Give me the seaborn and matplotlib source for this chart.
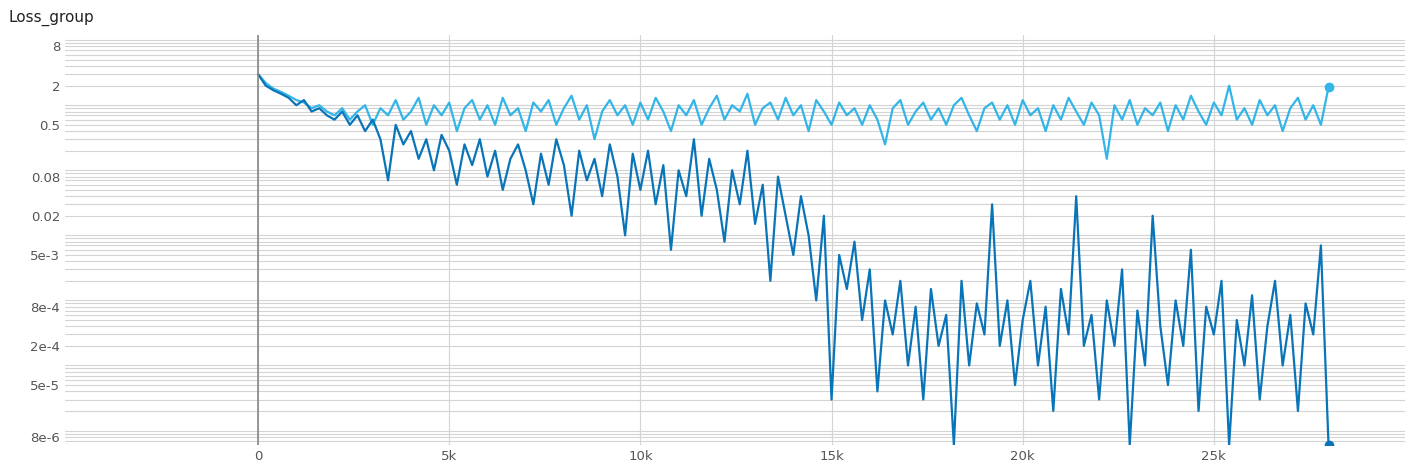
import numpy as np
import pandas as pd
import matplotlib
matplotlib.use("Agg")
import matplotlib.pyplot as plt
import seaborn as sns

steps = list(range(0, 28001, 200))
light = [3.0,2.2,1.8,1.6,1.4,1.2,1.1,0.9,1.0,0.8,
 0.7,0.9,0.6,0.8,1.0,0.5,0.9,0.7,1.2,0.6,
 0.8,1.3,0.5,1.0,0.7,1.1,0.4,0.9,1.2,0.6,
 1.0,0.5,1.3,0.7,0.9,0.4,1.1,0.8,1.2,0.5,
 0.9,1.4,0.6,1.0,0.3,0.8,1.2,0.7,1.0,0.5,
 1.1,0.6,1.3,0.8,0.4,1.0,0.7,1.2,0.5,0.9,
 1.4,0.6,1.0,0.8,1.5,0.5,0.9,1.1,0.6,1.3,
 0.7,1.0,0.4,1.2,0.8,0.5,1.1,0.7,0.9,0.5,
 1.0,0.6,0.25,0.9,1.2,0.5,0.8,1.1,0.6,0.9,
 0.5,1.0,1.3,0.7,0.4,0.9,1.1,0.6,1.0,0.5,
 1.2,0.7,0.9,0.4,1.0,0.6,1.3,0.8,0.5,1.1,
 0.7,0.15,1.0,0.6,1.2,0.5,0.9,0.7,1.1,0.4,
 1.0,0.6,1.4,0.8,0.5,1.1,0.7,2.0,0.6,0.9,
 0.5,1.2,0.7,1.0,0.4,0.9,1.3,0.6,1.0,0.5,
 1.9]
dark = [3.0,2.0,1.7,1.5,1.3,1.0,1.2,0.8,0.9,0.7,
 0.6,0.8,0.5,0.7,0.4,0.6,0.3,0.07,0.5,0.25,
 0.4,0.15,0.3,0.1,0.35,0.2,0.06,0.25,0.12,0.3,
 0.08,0.2,0.05,0.15,0.25,0.1,0.03,0.18,0.06,0.3,
 0.12,0.02,0.2,0.07,0.15,0.04,0.25,0.08,0.01,0.18,
 0.05,0.2,0.03,0.12,0.006,0.1,0.04,0.3,0.02,0.15,
 0.05,0.008,0.1,0.03,0.2,0.015,0.06,0.002,0.08,0.02,
 0.005,0.04,0.01,0.001,0.02,3e-5,0.005,0.0015,0.008,0.0005,
 0.003,4e-5,0.001,0.0003,0.002,0.0001,0.0008,0.00003,0.0015,0.0002,
 0.0006,6e-6,0.002,0.0001,0.0009,0.0003,0.03,0.0002,0.001,0.00005,
 0.0005,0.002,0.0001,0.0008,2e-5,0.0015,0.0003,0.04,0.0002,0.0006,
 0.00003,0.001,0.0002,0.003,6e-6,0.0007,0.0001,0.02,0.0004,0.00005,
 0.001,0.0002,0.006,0.00002,0.0008,0.0003,0.002,6e-6,0.0005,0.0001,
 0.0012,0.00003,0.0004,0.002,0.0001,0.0006,0.00002,0.0009,0.0003,0.007,
 6e-6]
ytick_vals = [8, 2, 0.5, 0.08, 0.02, 5e-3, 8e-4, 2e-4, 5e-5, 8e-6]
ytick_labels = ["8", "2", "0.5", "0.08", "0.02", "5e-3", "8e-4", "2e-4", "5e-5", "8e-6"]
xtick_vals = [0, 5000, 10000, 15000, 20000, 25000]
xtick_labels = ["0", "5k", "10k", "15k", "20k", "25k"]

sns.set_style("white")
fig = plt.figure(figsize=(14.15, 4.74), dpi=100)
ax = fig.add_axes([65/1415, 1-445/474, 1340/1415, 410/474])
c_light, c_dark = "#33b5e8", "#0a74b8"
sns.lineplot(x=steps, y=light, ax=ax, color=c_light, lw=1.6)
sns.lineplot(x=steps, y=dark, ax=ax, color=c_dark, lw=1.6)
ax.plot(steps[-1], light[-1], "o", color=c_light, ms=6)
ax.plot(steps[-1], dark[-1], "o", color=c_dark, ms=6)
ax.set_yscale("log")
ax.set_ylim(6e-6, 12)
ax.set_xlim(-5050, 30000)
ax.set_yticks(ytick_vals)
ax.set_yticklabels(ytick_labels)
ax.set_xticks(xtick_vals)
ax.set_xticklabels(xtick_labels)
ax.yaxis.set_minor_locator(matplotlib.ticker.LogLocator(base=10, subs=np.arange(1, 10)))
ax.yaxis.set_minor_formatter(matplotlib.ticker.NullFormatter())
ax.grid(True, which="both", axis="y", color="#d4d4d4", lw=0.8)
ax.grid(True, which="major", axis="x", color="#d4d4d4", lw=0.8)
ax.axvline(0, color="#888888", lw=1.2)
for s in ax.spines.values():
    s.set_visible(False)
ax.tick_params(axis="both", which="both", length=0, labelsize=9.5, labelcolor="#555555")
fig.text(8/1415, 1-18/474, "Loss_group", fontsize=11, color="#222222", va="center")
fig.savefig("out.png", dpi=100)
